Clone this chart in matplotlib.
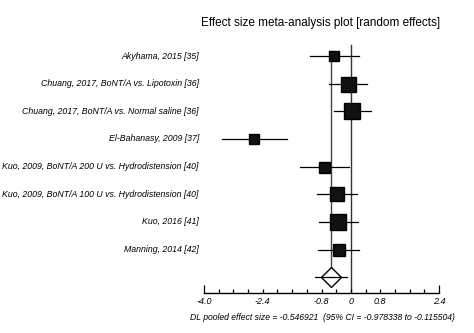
import matplotlib
matplotlib.use("Agg")
import matplotlib.pyplot as plt

# study estimates with 95% confidence limits
studies = [
    "Akyhama, 2015 [35]",
    "Chuang, 2017, BoNT/A vs. Lipotoxin [36]",
    "Chuang, 2017, BoNT/A vs. Normal saline [36]",
    "El-Bahanasy, 2009 [37]",
    "Kuo, 2009, BoNT/A 200 U vs. Hydrodistension [40]",
    "Kuo, 2009, BoNT/A 100 U vs. Hydrodistension [40]",
    "Kuo, 2016 [41]",
    "Manning, 2014 [42]",
]
effect = [-0.46, -0.07, 0.04, -2.64, -0.73, -0.37, -0.35, -0.33]
lower = [-1.12, -0.59, -0.45, -3.52, -1.39, -0.92, -0.87, -0.89]
upper = [0.23, 0.43, 0.54, -1.75, -0.05, 0.17, 0.20, 0.22]
# box size (weight) for each study
box = [9.3, 15.0, 16.0, 9.7, 11.0, 14.7, 15.3, 12.5]

pooled = -0.546921
pooled_lo = -0.978338
pooled_hi = -0.115504

ticks = [-4.0, -3.6, -3.2, -2.8, -2.4, -2.0, -1.6, -1.2, -0.8, -0.4, 0.0, 0.4, 0.8, 1.2, 1.6, 2.0, 2.4]
tick_labels = {-4.0: "-4.0", -2.4: "-2.4", -0.8: "-0.8", 0.0: "0", 0.8: "0.8", 2.4: "2.4"}

plt.rcParams['font.family'] = ['Liberation Sans', 'DejaVu Sans']

fig = plt.figure(figsize=(4.74, 3.33), dpi=100)
ax = fig.add_axes([204 / 474, 1 - 293 / 333, 235 / 474, 253 / 333])
ax.set_xlim(-4.0, 2.4)
ax.set_ylim(8.57, -0.58)

n = len(studies)
rows = list(range(n))

# reference lines: no effect and pooled estimate
ax.plot([0, 0], [-0.4, 8.57], color="#333333", lw=1.0, zorder=1)
ax.plot([pooled, pooled], [-0.2, n - 0.36], color="#444444", lw=1.0, zorder=1)

for i in rows:
    ax.plot([lower[i], upper[i]], [i, i], color="black", lw=0.9, zorder=2)
    ax.plot(effect[i], i, marker="s", markersize=box[i] * 0.72,
            color="#111111", markeredgecolor="black", zorder=3)
    ax.text(-4.14, i, studies[i], ha="right", va="center",
            fontsize=6.3, style="italic")

# pooled estimate diamond
ax.plot([pooled_lo, pooled_hi], [n, n], color="black", lw=0.9, zorder=2)
ax.plot(pooled, n, marker="D", markersize=10, markerfacecolor="none",
        markeredgecolor="black", markeredgewidth=1.0, zorder=3)

for s in ["left", "top", "right"]:
    ax.spines[s].set_visible(False)
ax.spines["bottom"].set_linewidth(1.0)
ax.set_yticks([])
ax.set_xticks(ticks)
ax.set_xticklabels([tick_labels.get(round(t, 1), "") for t in ticks],
                   fontsize=6.5, style="italic")
ax.tick_params(axis="x", direction="in", length=3, width=0.9, pad=3)
# end ticks are drawn taller
xt = ax.xaxis.get_major_ticks()
for t in (xt[0], xt[-1]):
    t.tick1line.set_markersize(6)
    t.tick1line.set_clip_on(False)

fig.text(321 / 474, 1 - 23 / 333, "Effect size meta-analysis plot [random effects]",
         ha="center", va="center", fontsize=8.45)
fig.text(322 / 474, 1 - 317 / 333,
         "DL pooled effect size = -0.546921  (95% CI = -0.978338 to -0.115504)",
         ha="center", va="center", fontsize=6.2, style="italic")

fig.savefig("out.png", dpi=100)
